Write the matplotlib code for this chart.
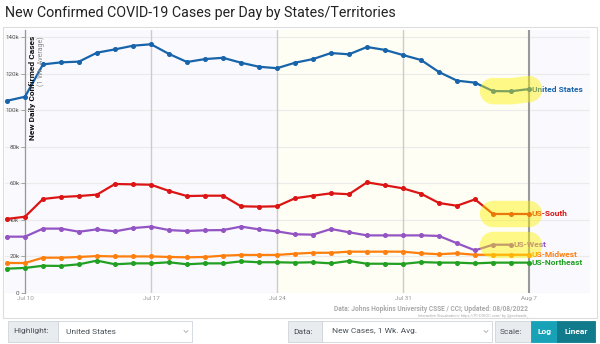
import numpy as np
import matplotlib.pyplot as plt
from matplotlib.patches import Rectangle

plt.rcParams['font.family'] = ['Roboto', 'DejaVu Sans']

# days from Jul 9 to Aug 7, 2022
days = np.arange(30)
tick_pos = [1, 8, 15, 22, 29]
tick_labels = ['Jul 10', 'Jul 17', 'Jul 24', 'Jul 31', 'Aug 7']

# new cases, 1 wk avg, in thousands
us = [105.1, 107.3, 125.0, 126.1, 126.5, 131.4, 133.2, 135.2, 136.0, 130.7,
      126.3, 127.9, 128.6, 125.9, 123.7, 122.9, 125.9, 127.9, 131.2, 130.5,
      134.5, 132.9, 130.1, 127.4, 120.8, 116.1, 115.0, 110.4, 110.3, 111.5]
south = [40.5, 41.7, 51.4, 52.5, 53.0, 53.8, 59.6, 59.4, 59.2, 55.8,
         53.0, 53.2, 53.2, 47.4, 47.2, 47.4, 51.8, 53.2, 54.5, 54.0,
         60.5, 58.9, 57.2, 54.3, 49.2, 47.7, 51.2, 43.2, 43.2, 43.2]
west = [30.8, 30.8, 35.2, 35.2, 33.5, 34.8, 33.7, 35.5, 36.3, 34.4,
        33.9, 34.3, 34.4, 36.3, 34.8, 33.7, 32.1, 31.9, 35.0, 33.2,
        31.5, 31.5, 31.5, 31.5, 31.2, 27.2, 23.3, 26.4, 26.4]
midwest = [16.4, 16.4, 19.3, 19.3, 19.7, 20.2, 20.0, 20.0, 20.0, 19.7,
           19.5, 19.7, 20.4, 20.8, 20.8, 20.8, 21.5, 22.0, 22.0, 22.6,
           22.6, 22.6, 22.6, 21.7, 21.2, 21.7, 20.9, 20.9, 20.9, 20.9]
northeast = [13.3, 13.7, 14.9, 14.8, 15.7, 17.7, 15.7, 16.2, 16.2, 16.8,
             15.7, 16.2, 16.2, 17.3, 16.8, 16.8, 16.6, 16.8, 16.2, 17.5,
             16.0, 16.0, 15.9, 16.9, 16.6, 16.6, 16.2, 16.6, 16.6, 16.6]

names = ['United States', 'US-South', 'US-West', 'US-Midwest', 'US-Northeast']
series = [us, south, west, midwest, northeast]
colors = ['#1764ab', '#dc1414', '#9354c4', '#ff7f0e', '#22a022']
highlighted = ['United States', 'US-South', 'US-West']

fig = plt.figure(figsize=(6, 3.44), dpi=100)

# page / controls layer in pixel coords
ui = fig.add_axes([0, 0, 1, 1])
ui.set_xlim(0, 600)
ui.set_ylim(344, 0)
ui.axis('off')
ui.add_patch(Rectangle((3, 27), 594, 291, facecolor='white', edgecolor='#dddddd', lw=0.8))

def box(x0, x1, face, edge='#ced4da'):
    ui.add_patch(Rectangle((x0, 321), x1 - x0, 21, facecolor=face, edgecolor=edge, lw=0.6))

box(8, 58, '#e9ecef')
box(58, 192, 'white')
box(288, 322, '#e9ecef')
box(322, 492, 'white')
box(495, 531, '#e9ecef')
box(531, 557, '#17a2b8', '#17a2b8')
box(557, 595, '#117a8b', '#117a8b')
ui.text(13, 331.5, 'Highlight:', fontsize=6, color='#495057', va='center')
ui.text(66, 331.5, 'United States', fontsize=6, color='#495057', va='center')
ui.text(293, 331.5, 'Data:', fontsize=6, color='#495057', va='center')
ui.text(332, 331.5, 'New Cases, 1 Wk. Avg.', fontsize=6, color='#495057', va='center')
ui.text(500, 331.5, 'Scale:', fontsize=6, color='#495057', va='center')
ui.text(544, 331.5, 'Log', fontsize=6, color='white', weight='bold', va='center', ha='center')
ui.text(576, 331.5, 'Linear', fontsize=6, color='white', weight='bold', va='center', ha='center')
for cx in [186, 486]:
    ui.plot([cx - 2, cx, cx + 2], [330.5, 332.5, 330.5], color='#999999', lw=0.5)

fig.text(5 / 600, 1 - 13 / 344, 'New Confirmed COVID-19 Cases per Day by States/Territories',
         fontsize=10.3, color='#222222', va='center')

# main chart
ax = fig.add_axes([5 / 600, (344 - 293) / 344, 585 / 600, 263 / 344])
ax.set_facecolor('#f9f9fe')
ax.set_xlim((5 - 7) / 18, (590 - 7) / 18)
ax.set_ylim(0, 263 / 1.829)
ax.axvspan(15, 29, color='#fefef4', zorder=0)

for v in range(0, 141, 20):
    ax.axhline(v, color='#ebebeb', lw=0.8, zorder=0.5)
for t in tick_pos[:-1]:
    ax.axvline(t, color='#cccccc', lw=1, zorder=0.6)
ax.axvline(tick_pos[-1], color='#999999', lw=1.5, zorder=0.6)

for name, vals, c in zip(names, series, colors):
    n = len(vals)
    ax.plot(days[:n], vals, color=c, lw=1.6, marker='o', ms=2.6, zorder=3)
    ax.text(days[n - 1] + 0.15, vals[-1], name, color=c, fontsize=6, weight='bold',
            va='center', ha='left', zorder=4)
    if name in highlighted:
        hv = list(vals[27:]) + [vals[-1]] * (30 - n)
        ax.plot(days[27:30], hv, color='#fff200', alpha=0.45, lw=19,
                solid_capstyle='round', zorder=6)

for s in ['top', 'right', 'bottom']:
    ax.spines[s].set_visible(False)
ax.spines['left'].set_position(('data', 1))
ax.spines['left'].set_color('#999999')
ax.set_yticks(range(0, 141, 20))
ax.set_yticklabels(['0'] + [f'{v}k' for v in range(20, 141, 20)])
ax.tick_params(axis='y', length=3, width=0.6, color='#999999', labelsize=4.5,
               labelcolor='#555555', pad=1)
ax.set_xticks(tick_pos)
ax.set_xticklabels(tick_labels)
ax.tick_params(axis='x', length=0, labelsize=4.5, labelcolor='#999999', pad=2.5)

fig.text(33 / 600, 1 - 36 / 344, 'New Daily Confirmed Cases', rotation=90, fontsize=6,
         weight='bold', color='#111111', ha='center', va='top')
fig.text(41 / 600, 1 - 36 / 344, '(1 Wk. Average)', rotation=90, fontsize=5,
         color='#888888', ha='center', va='top')

fig.text(528 / 600, 1 - 309 / 344, 'Data: Johns Hopkins University CSSE / CCI; Updated: 08/08/2022',
         fontsize=4.8, weight='bold', color='#aaaaaa', ha='right', va='center')
fig.text(528 / 600, 1 - 315.5 / 344, 'Interactive Visualization: https://91-DIVOC.com/ by @profwade_',
         fontsize=2.8, color='#aaaaaa', ha='right', va='center')

fig.savefig('out.png', dpi=100)
